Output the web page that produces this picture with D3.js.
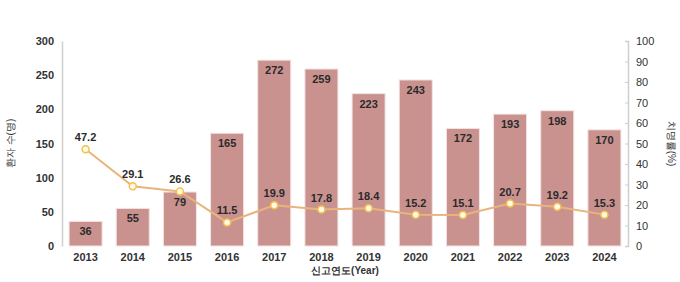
<!DOCTYPE html>
<html>
<head>
<meta charset="utf-8">
<script src="https://cdn.jsdelivr.net/npm/d3@7"></script>
<style>
  body { margin: 0; background: #fff; }
  text { font-family: "Liberation Sans", Arial, sans-serif; }
</style>
</head>
<body>
<div id="chart"></div>
<script>
var years = ["2013", "2014", "2015", "2016", "2017", "2018", "2019", "2020", "2021", "2022", "2023", "2024"];
var patients = [36, 55, 79, 165, 272, 259, 223, 243, 172, 193, 198, 170];
var fatality = [47.2, 29.1, 26.6, 11.5, 19.9, 17.8, 18.4, 15.2, 15.1, 20.7, 19.2, 15.3];
var leftTicks = [0, 50, 100, 150, 200, 250, 300];
var rightTicks = [0, 10, 20, 30, 40, 50, 60, 70, 80, 90, 100];

var svgWidth = 680, svgHeight = 282;
var margin = {top: 41, right: 52, bottom: 36, left: 62};
var width = svgWidth - margin.left - margin.right;
var height = svgHeight - margin.top - margin.bottom;

var svg = d3.select("#chart")
    .append("svg")
        .attr("width", svgWidth)
        .attr("height", svgHeight);
var chartGroup = svg.append("g")
        .attr("transform", `translate(${margin.left}, ${margin.top})`);

var x = d3.scaleBand().domain(years).range([0, width]).paddingInner(0.3).paddingOuter(0.15);
var y0 = d3.scaleLinear().domain([0, 300]).range([height, 0]);
var y1 = d3.scaleLinear().domain([0, 100]).range([height, 0]);

// bars
chartGroup.selectAll(".bar")
    .data(years)
    .enter().append("rect")
        .attr("class", "bar")
        .attr("x", d => x(d))
        .attr("width", x.bandwidth())
        .attr("y", (d, i) => y0(patients[i]))
        .attr("height", (d, i) => height - y0(patients[i]))
        .style("fill", "#c9928f")
        .style("stroke", "#f3e3e2")
        .style("stroke-width", 1);

chartGroup.selectAll(".barLabel")
    .data(years)
    .enter().append("text")
        .attr("x", d => x(d) + x.bandwidth() / 2)
        .attr("y", (d, i) => y0(patients[i]) + 14)
        .attr("text-anchor", "middle")
        .style("font-size", "11px")
        .style("font-weight", "bold")
        .style("fill", "#2a2a2a")
        .text((d, i) => patients[i]);

// line
var valueline = d3.line()
    .x((d, i) => x(years[i]) + x.bandwidth() / 2)
    .y(d => y1(d));

chartGroup.append("path")
    .attr("d", valueline(fatality))
    .style("fill", "none")
    .style("stroke", "#e9b47c")
    .style("stroke-width", 2);

chartGroup.selectAll(".dot")
    .data(fatality)
    .enter().append("circle")
        .attr("class", "dot")
        .attr("cx", (d, i) => x(years[i]) + x.bandwidth() / 2)
        .attr("cy", d => y1(d))
        .attr("r", 3.5)
        .style("fill", "#fffbe8")
        .style("stroke", "#f2c24e")
        .style("stroke-width", 1.5);

chartGroup.selectAll(".lineLabel")
    .data(fatality)
    .enter().append("text")
        .attr("x", (d, i) => x(years[i]) + x.bandwidth() / 2)
        .attr("y", d => y1(d) - 8)
        .attr("text-anchor", "middle")
        .style("font-size", "11px")
        .style("font-weight", "bold")
        .style("fill", "#2a2a2a")
        .text(d => d.toFixed(1));

// axes
var yAxisLeft = d3.axisLeft(y0).tickValues(leftTicks).tickSize(0).tickPadding(8);
var yAxisRight = d3.axisRight(y1).tickValues(rightTicks).tickSize(-3).tickPadding(8);
var xAxis = d3.axisBottom(x).tickSize(0).tickPadding(7);

var gl = chartGroup.append("g").call(yAxisLeft);
var gr = chartGroup.append("g").attr("transform", "translate(" + width + ",0)").call(yAxisRight);
var gx = chartGroup.append("g").attr("transform", "translate(0," + height + ")").call(xAxis);
gx.select(".domain").remove();

[gl, gr, gx].forEach(function(g) {
    g.selectAll(".domain").style("stroke", "#cfcfcf").style("stroke-width", 1.5);
    g.selectAll(".tick line").style("stroke", "#cfcfcf");
    g.selectAll("text")
        .style("font-family", "Liberation Sans, Arial, sans-serif")
        .style("font-size", "11px")
        .style("fill", "#333");
});
gl.selectAll("text").style("font-weight", "bold");
gx.selectAll("text").style("font-weight", "bold");

// axis titles
chartGroup.append("text")
    .attr("transform", "translate(" + -48 + "," + height / 2 + ") rotate(-90)")
    .attr("text-anchor", "middle")
    .style("font-size", "10px")
    .style("fill", "#333")
    .text("환자 수(명)");

chartGroup.append("text")
    .attr("transform", "translate(" + (width + 40) + "," + height / 2 + ") rotate(90)")
    .attr("text-anchor", "middle")
    .style("font-size", "10px")
    .style("fill", "#333")
    .text("치명률(%)");

chartGroup.append("text")
    .attr("x", width / 2)
    .attr("y", height + 28)
    .attr("text-anchor", "middle")
    .style("font-size", "10px")
    .style("font-weight", "bold")
    .style("fill", "#333")
    .text("신고연도(Year)");
</script>
</body>
</html>
